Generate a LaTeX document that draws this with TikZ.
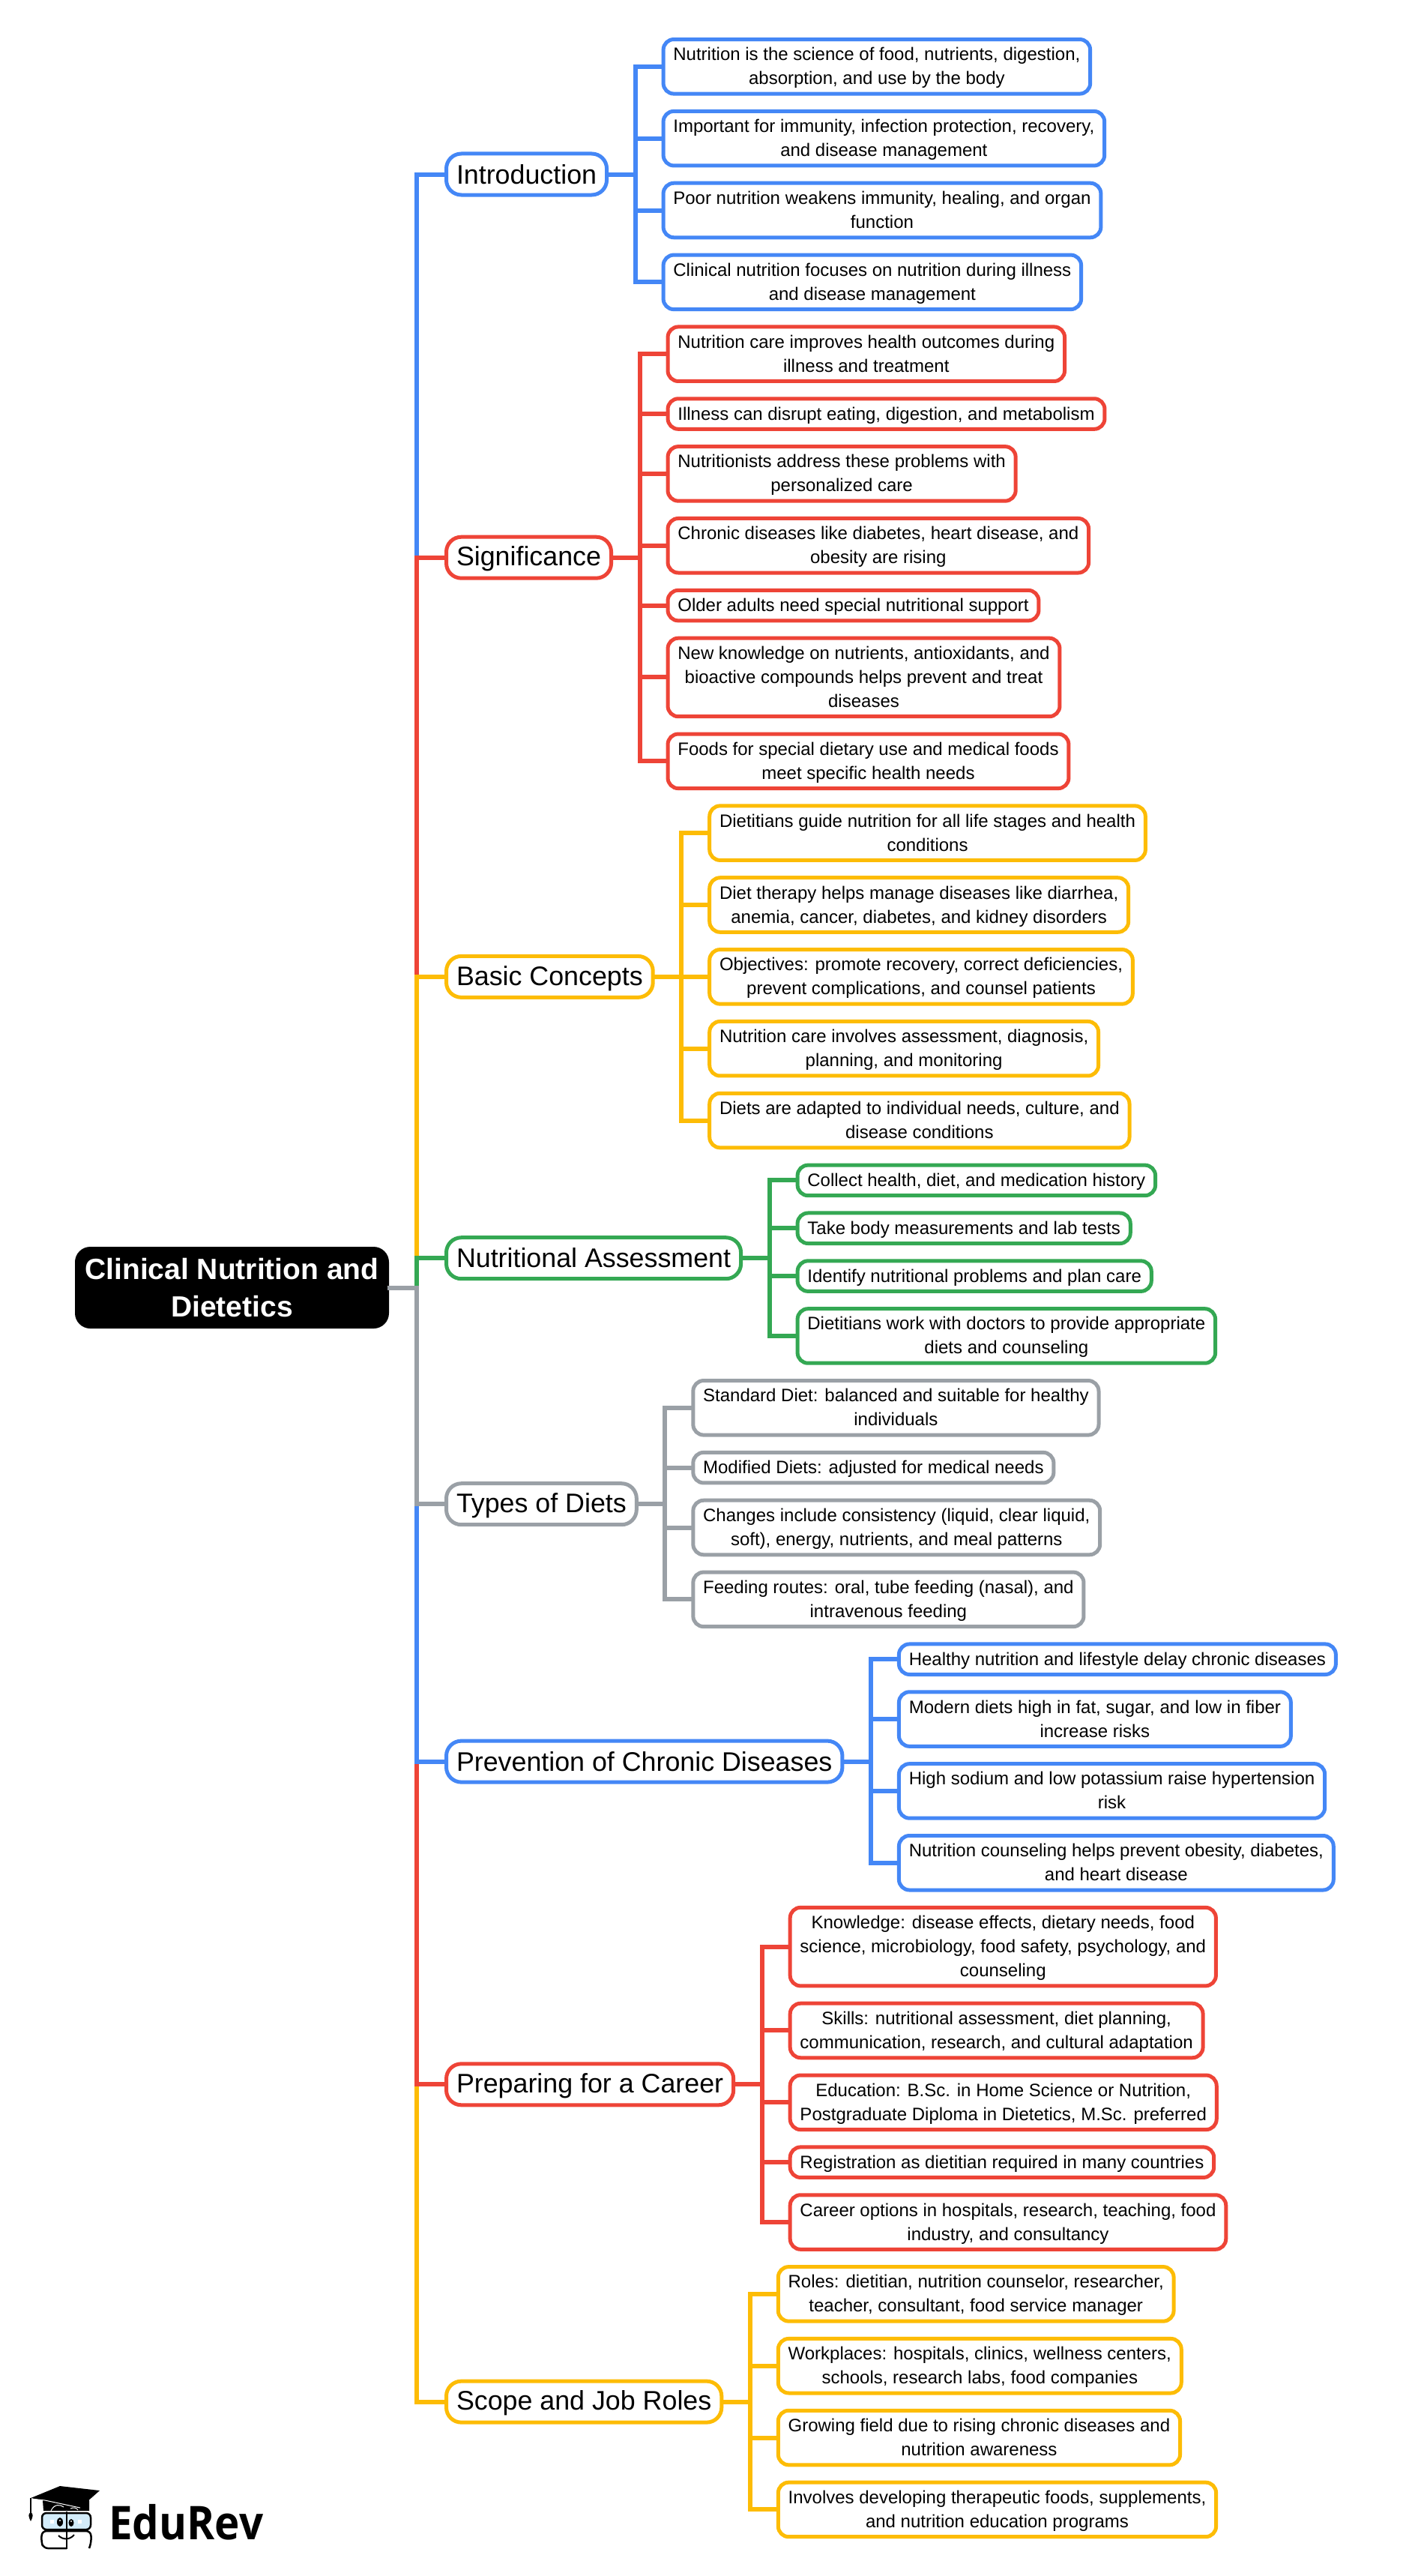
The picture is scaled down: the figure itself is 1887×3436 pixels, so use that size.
\documentclass[tikz,border=0pt]{standalone}
\usepackage{fontspec}
\setmainfont{Liberation Sans}
\newfontfamily\logofont[FakeStretch=0.91]{Open Sans}
\definecolor{gblue}{HTML}{4487F6}
\definecolor{gred}{HTML}{EE4437}
\definecolor{gyellow}{HTML}{FDBC05}
\definecolor{ggreen}{HTML}{34A853}
\definecolor{ggray}{HTML}{9AA0A6}
\definecolor{lens}{HTML}{D3ECFA}
\tikzset{
  rootbox/.style={draw=black,fill=black,text=white,line width=5pt,rounded corners=18pt,outer sep=0pt,inner sep=0pt,
    minimum width=414pt,minimum height=104pt,align=center,font=\fontsize{39}{50}\selectfont\bfseries},
  topicbox/.style={fill=white,line width=5pt,rounded corners=20pt,outer sep=0pt,inner ysep=0pt,inner xsep=13.5pt,
    minimum height=55pt,anchor=west,font=\fontsize{35.8}{46}\selectfont},
  leafbox/.style={fill=white,line width=5pt,rounded corners=14pt,outer sep=0pt,inner ysep=0pt,inner xsep=13.3pt,
    anchor=west,align=center,font=\fontsize{24}{32}\selectfont},
  conn/.style={line width=6pt,line join=miter},
}
\newcommand{\lfst}{\rule{0pt}{24pt}}
\newcommand{\lbst}{\rule[-8pt]{0pt}{8pt}}
\newcommand{\tpst}{\rule[-5pt]{0pt}{35pt}}
% colour, name, y, text
\newcommand{\topic}[4]{\node[topicbox,draw=#1] (#2) at (595.5,#3) {\tpst #4};}
% colour, name, parent, y, height, text
\newcommand{\leaf}[6]{%
  \path (#3.east) ++(75.5,0) coordinate (tmp#2);
  \node[leafbox,draw=#1,minimum height=#5pt] (#2) at (tmp#2 |- 0,#4) {\lfst #6\lbst};
  \draw[conn,#1] (#3.east) -- ++(38,0) |- (#2.west);
}
\newcommand{\two}{72.55}
\newcommand{\one}{40.55}
\newcommand{\three}{104.55}
\begin{document}
\begin{tikzpicture}[x=1pt,y=-1pt]
\useasboundingbox (0,0) rectangle (1887,3436);
\fill[white] (0,0) rectangle (1887,3436);

\node[rootbox] (root) at (309.5,1717.5) {\rule[-9pt]{0pt}{45pt}Clinical Nutrition and\\Dietetics\rule[-9pt]{0pt}{9pt}};

\topic{gblue}{intro}{232.5}{Introduction}
\topic{gred}{signif}{743.7}{Significance}
\topic{gyellow}{basic}{1302.85}{Basic Concepts}
\topic{ggreen}{assess}{1678.2}{Nutritional Assessment}
\topic{ggray}{types}{2006.2}{Types of Diets}
\topic{gblue}{prevent}{2349.6}{Prevention of Chronic Diseases}
\topic{gred}{career}{2780.3}{Preparing for a Career}
\topic{gyellow}{scope}{3203.6}{Scope and Job Roles}

\draw[conn,gblue] (root.east) -- ++(39.5,0) |- (intro.west);
\draw[conn,gyellow] (root.east) -- ++(39.5,0) |- (scope.west);
\draw[conn,gred] (root.east) -- ++(39.5,0) |- (signif.west);
\draw[conn,gred] (root.east) -- ++(39.5,0) |- (career.west);
\draw[conn,gyellow] (root.east) -- ++(39.5,0) |- (basic.west);
\draw[conn,gblue] (root.east) -- ++(39.5,0) |- (prevent.west);
\draw[conn,ggreen] (root.east) -- ++(39.5,0) |- (assess.west);
\draw[conn,ggray] (root.east) -- ++(39.5,0) |- (types.west);

\leaf{gblue}{i1}{intro}{88.8}{\two}{Nutrition is the science of food, nutrients, digestion,\\absorption, and use by the body}
\leaf{gblue}{i2}{intro}{184.65}{\two}{Important for immunity, infection protection, recovery,\\and disease management}
\leaf{gblue}{i3}{intro}{280.5}{\two}{Poor nutrition weakens immunity, healing, and organ\\function}
\leaf{gblue}{i4}{intro}{376.35}{\two}{Clinical nutrition focuses on nutrition during illness\\and disease management}

\leaf{gred}{s1}{signif}{472.2}{\two}{Nutrition care improves health outcomes during\\illness and treatment}
\leaf{gred}{s2}{signif}{552.05}{\one}{Illness can disrupt eating, digestion, and metabolism}
\leaf{gred}{s3}{signif}{631.9}{\two}{Nutritionists address these problems with\\personalized care}
\leaf{gred}{s4}{signif}{727.75}{\two}{Chronic diseases like diabetes, heart disease, and\\obesity are rising}
\leaf{gred}{s5}{signif}{807.6}{\one}{Older adults need special nutritional support}
\leaf{gred}{s6}{signif}{903.45}{\three}{New knowledge on nutrients, antioxidants, and\\bioactive compounds helps prevent and treat\\diseases}
\leaf{gred}{s7}{signif}{1015.3}{\two}{Foods for special dietary use and medical foods\\meet specific health needs}

\leaf{gyellow}{b1}{basic}{1111.15}{\two}{Dietitians guide nutrition for all life stages and health\\conditions}
\leaf{gyellow}{b2}{basic}{1207}{\two}{Diet therapy helps manage diseases like diarrhea,\\anemia, cancer, diabetes, and kidney disorders}
\leaf{gyellow}{b3}{basic}{1302.85}{\two}{Objectives: promote recovery, correct deficiencies,\\prevent complications, and counsel patients}
\leaf{gyellow}{b4}{basic}{1398.7}{\two}{Nutrition care involves assessment, diagnosis,\\planning, and monitoring}
\leaf{gyellow}{b5}{basic}{1494.55}{\two}{Diets are adapted to individual needs, culture, and\\disease conditions}

\leaf{ggreen}{a1}{assess}{1574.4}{\one}{Collect health, diet, and medication history}
\leaf{ggreen}{a2}{assess}{1638.25}{\one}{Take body measurements and lab tests}
\leaf{ggreen}{a3}{assess}{1702.1}{\one}{Identify nutritional problems and plan care}
\leaf{ggreen}{a4}{assess}{1781.95}{\two}{Dietitians work with doctors to provide appropriate\\diets and counseling}

\leaf{ggray}{t1}{types}{1877.8}{\two}{Standard Diet: balanced and suitable for healthy\\individuals}
\leaf{ggray}{t2}{types}{1957.65}{\one}{Modified Diets: adjusted for medical needs}
\leaf{ggray}{t3}{types}{2037.5}{\two}{Changes include consistency (liquid, clear liquid,\\soft), energy, nutrients, and meal patterns}
\leaf{ggray}{t4}{types}{2133.35}{\two}{Feeding routes: oral, tube feeding (nasal), and\\intravenous feeding}

\leaf{gblue}{p1}{prevent}{2213.2}{\one}{Healthy nutrition and lifestyle delay chronic diseases}
\leaf{gblue}{p2}{prevent}{2293.05}{\two}{Modern diets high in fat, sugar, and low in fiber\\increase risks}
\leaf{gblue}{p3}{prevent}{2388.9}{\two}{High sodium and low potassium raise hypertension\\risk}
\leaf{gblue}{p4}{prevent}{2484.75}{\two}{Nutrition counseling helps prevent obesity, diabetes,\\and heart disease}

\leaf{gred}{c1}{career}{2596.6}{\three}{Knowledge: disease effects, dietary needs, food\\science, microbiology, food safety, psychology, and\\counseling}
\leaf{gred}{c2}{career}{2708.45}{\two}{Skills: nutritional assessment, diet planning,\\communication, research, and cultural adaptation}
\leaf{gred}{c3}{career}{2804.3}{\two}{Education: B.Sc. in Home Science or Nutrition,\\Postgraduate Diploma in Dietetics, M.Sc. preferred}
\leaf{gred}{c4}{career}{2884.15}{\one}{Registration as dietitian required in many countries}
\leaf{gred}{c5}{career}{2964}{\two}{Career options in hospitals, research, teaching, food\\industry, and consultancy}

\leaf{gyellow}{r1}{scope}{3059.85}{\two}{Roles: dietitian, nutrition counselor, researcher,\\teacher, consultant, food service manager}
\leaf{gyellow}{r2}{scope}{3155.7}{\two}{Workplaces: hospitals, clinics, wellness centers,\\schools, research labs, food companies}
\leaf{gyellow}{r3}{scope}{3251.55}{\two}{Growing field due to rising chronic diseases and\\nutrition awareness}
\leaf{gyellow}{r4}{scope}{3347.4}{\two}{Involves developing therapeutic foods, supplements,\\and nutrition education programs}

% EduRev logo
\fill[black] (57,3335) -- (58,3349) -- (119,3349) -- (119,3335) -- cycle;
\draw[white,line width=1pt] (68,3349) .. controls (72,3340) and (80,3340) .. (85,3344);
\draw[white,line width=1pt] (94,3346) .. controls (98,3344) and (102,3345) .. (104,3348);
\fill[black] (41,3332) -- (80,3316) -- (133,3322) -- (107,3345) -- cycle;
\draw[white,line width=1pt] (42,3333) -- (60,3335) -- (107,3345);
\draw[black,line width=1.5pt] (41,3332) -- (41,3353);
\fill[black] (41,3351) .. controls (37,3353) and (38,3357) .. (41,3363) .. controls (44,3357) and (45,3353) .. (41,3351) -- cycle;
\draw[black,line width=2.5pt,fill=lens,rounded corners=6pt] (56,3352) rectangle (121,3374);
\draw[black,line width=2.5pt,rounded corners=6pt] (89,3399) -- (58,3399) -- (55,3390) -- (56,3376) -- (121,3376) -- (122,3390) -- (119,3399);
\draw[black,line width=2.5pt] (89,3350) -- (89,3400);
\fill[black] (80,3364) ellipse (4pt and 6pt);
\fill[black] (95,3365) ellipse (3.5pt and 5pt);
\fill[white] (80,3362) circle (1.2pt);
\fill[white] (95,3363) circle (1.2pt);
\fill[white] (67,3361) rectangle (72,3366);
\fill[white] (104,3361) rectangle (109,3366);
\draw[black,line width=2pt] (78,3382) .. controls (84,3388) and (93,3388) .. (99,3381);
\node[font=\fontsize{62}{62}\selectfont\logofont\bfseries,anchor=base west,inner sep=0pt] (logo) at (145,3387) {EduRev};
\end{tikzpicture}
\end{document}
